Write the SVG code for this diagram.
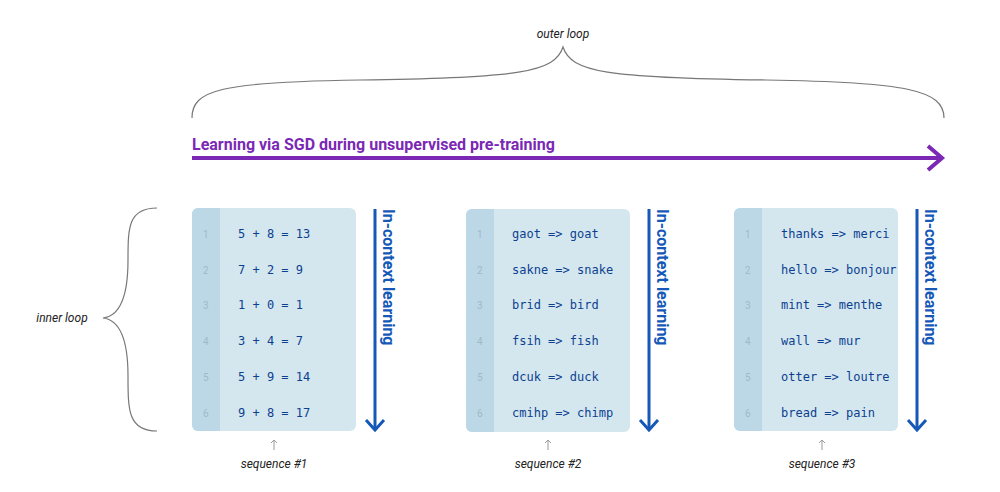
<svg xmlns="http://www.w3.org/2000/svg" width="1000" height="492" viewBox="0 0 1000 492">
<style>
.box{fill:#d4e7ef}
.gut{fill:#bcd8e6}
.num{font:10px Roboto,sans-serif;fill:#9fb8c6}
.code{font:12px "DejaVu Sans Mono",monospace;fill:#0d3f8f}
.lbl{font:italic 12px Roboto,sans-serif;fill:#222}
.icl{font:bold 16px Roboto,sans-serif;fill:#1558b8}
.brace{fill:none;stroke:#777;stroke-width:1.2}
.blue{stroke:#1558b8;stroke-width:3;fill:none}
.up{stroke:#999;stroke-width:1;fill:none}
</style>
<rect width="1000" height="492" fill="#fff"/>
<text class="lbl" x="563" y="38" text-anchor="middle">outer loop</text>
<path class="brace" d="M192,118 C192,90 220,82 360,80 C520,78 555,72 563,47 C571,72 606,78 766,80 C906,82 944,90 944,118"/>
<text x="192" y="150" font-family="Roboto,sans-serif" font-weight="bold" font-size="16" fill="#7b28b5">Learning via SGD during unsupervised pre-training</text>
<g id="connectors">
<line x1="192" y1="158" x2="940" y2="158" stroke="#7b28b5" stroke-width="4"/>
<path d="M928,146 L942,158 L928,170" stroke="#7b28b5" stroke-width="4" fill="none"/>
<path class="brace" d="M157,208 C128,208 128,228 128,260 C128,295 120,316 103,318 C120,320 128,341 128,376 C128,410 128,431 157,431"/>
</g>
<text class="lbl" x="62" y="322" text-anchor="middle">inner loop</text>
<g id="seq1">
<rect class="box" x="192" y="208" width="164" height="223" rx="6"/>
<path class="gut" d="M198,208 H220 V431 H198 A6,6 0 0 1 192,425 V214 A6,6 0 0 1 198,208Z"/>
<g class="num"><text x="203" y="238">1</text><text x="203" y="274">2</text><text x="203" y="309">3</text><text x="203" y="345">4</text><text x="203" y="381">5</text><text x="203" y="417">6</text></g>
<g class="code"><text x="238" y="238">5 + 8 = 13</text><text x="238" y="274">7 + 2 = 9</text><text x="238" y="309">1 + 0 = 1</text><text x="238" y="345">3 + 4 = 7</text><text x="238" y="381">5 + 9 = 14</text><text x="238" y="417">9 + 8 = 17</text></g>
<line class="blue" x1="375" y1="209" x2="375" y2="430"/><path class="blue" d="M366,420 L375,430 L384,420"/>
<text class="icl" transform="translate(383,209) rotate(90)">In-context learning</text>
<path class="up" d="M274,450 V440 M271,443 L274,440 L277,443"/>
<text class="lbl" x="274" y="468" text-anchor="middle">sequence #1</text>
</g>
<g id="seq2">
<rect class="box" x="466" y="209" width="164" height="223" rx="6"/>
<path class="gut" d="M472,209 H494 V432 H472 A6,6 0 0 1 466,426 V215 A6,6 0 0 1 472,209Z"/>
<g class="num"><text x="477" y="238">1</text><text x="477" y="274">2</text><text x="477" y="309">3</text><text x="477" y="345">4</text><text x="477" y="381">5</text><text x="477" y="417">6</text></g>
<g class="code"><text x="512" y="238">gaot =&gt; goat</text><text x="512" y="274">sakne =&gt; snake</text><text x="512" y="309">brid =&gt; bird</text><text x="512" y="345">fsih =&gt; fish</text><text x="512" y="381">dcuk =&gt; duck</text><text x="512" y="417">cmihp =&gt; chimp</text></g>
<line class="blue" x1="649" y1="209" x2="649" y2="430"/><path class="blue" d="M640,420 L649,430 L658,420"/>
<text class="icl" transform="translate(657,209) rotate(90)">In-context learning</text>
<path class="up" d="M548,450 V440 M545,443 L548,440 L551,443"/>
<text class="lbl" x="548" y="468" text-anchor="middle">sequence #2</text>
</g>
<g id="seq3">
<rect class="box" x="734" y="208" width="164" height="223" rx="6"/>
<path class="gut" d="M740,208 H762 V431 H740 A6,6 0 0 1 734,425 V214 A6,6 0 0 1 740,208Z"/>
<g class="num"><text x="745" y="238">1</text><text x="745" y="274">2</text><text x="745" y="309">3</text><text x="745" y="345">4</text><text x="745" y="381">5</text><text x="745" y="417">6</text></g>
<g class="code"><text x="781" y="238">thanks =&gt; merci</text><text x="781" y="274">hello =&gt; bonjour</text><text x="781" y="309">mint =&gt; menthe</text><text x="781" y="345">wall =&gt; mur</text><text x="781" y="381">otter =&gt; loutre</text><text x="781" y="417">bread =&gt; pain</text></g>
<line class="blue" x1="917" y1="209" x2="917" y2="430"/><path class="blue" d="M908,420 L917,430 L926,420"/>
<text class="icl" transform="translate(925,209) rotate(90)">In-context learning</text>
<path class="up" d="M822,450 V440 M819,443 L822,440 L825,443"/>
<text class="lbl" x="822" y="468" text-anchor="middle">sequence #3</text>
</g>
</svg>
